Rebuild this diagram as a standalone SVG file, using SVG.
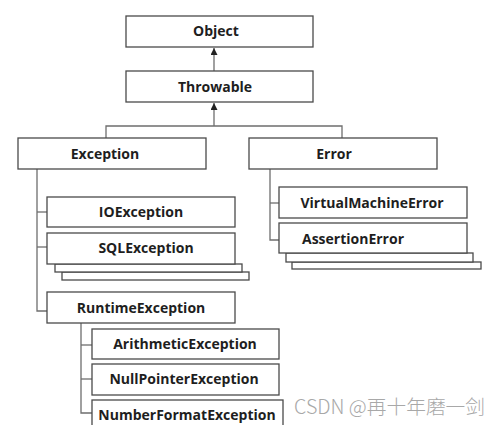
<svg xmlns="http://www.w3.org/2000/svg" width="500" height="425" viewBox="0 0 500 425">
<style>
.box{fill:#fff;stroke:#4a4a4a;stroke-width:1.3}
.lbl{font-family:"Open Sans","Liberation Sans",sans-serif;font-weight:bold;font-size:14px;fill:#1e1e1e;text-anchor:middle}
.con{stroke:#6e6e6e;stroke-width:1.3;fill:none}
.wm{fill:#a8a8a8}
</style>
<defs>
<marker id="arr" viewBox="0 0 8 8" refX="8" refY="4" markerWidth="7" markerHeight="7" markerUnits="userSpaceOnUse" orient="auto">
<path d="M0,0 L8,4 L0,8 Z" fill="#222"/>
</marker>
</defs>
<rect width="500" height="425" fill="#fff"/>
<g id="connectors">
<line class="con" x1="214" y1="71" x2="214" y2="48" marker-end="url(#arr)"/>
<line class="con" x1="214" y1="126" x2="214" y2="103" marker-end="url(#arr)"/>
<polyline class="con" points="106,138 106,126 342,126 342,138"/>
<polyline class="con" points="37,169 37,311 47,311"/>
<line class="con" x1="37" y1="212" x2="47" y2="212"/>
<line class="con" x1="37" y1="247" x2="47" y2="247"/>
<polyline class="con" points="81,323 81,413 92,413"/>
<line class="con" x1="81" y1="345" x2="92" y2="345"/>
<line class="con" x1="81" y1="379" x2="92" y2="379"/>
<polyline class="con" points="270,169 270,240 279,240"/>
<line class="con" x1="270" y1="203" x2="279" y2="203"/>
</g>
<g id="object"><rect class="box" x="126" y="16" width="187" height="31"/><text class="lbl" x="216" y="36">Object</text></g>
<g id="throwable"><rect class="box" x="126" y="71" width="187" height="31"/><text class="lbl" x="215" y="91.5">Throwable</text></g>
<g id="exception"><rect class="box" x="18" y="138" width="188" height="31"/><text class="lbl" x="105" y="158.5">Exception</text></g>
<g id="error"><rect class="box" x="249" y="138" width="188" height="31"/><text class="lbl" x="334" y="158.5">Error</text></g>
<g id="ioexception"><rect class="box" x="47" y="197" width="188" height="30"/><text class="lbl" x="141" y="217">IOException</text></g>
<g id="sqlexception">
<rect class="box" x="62" y="272" width="187" height="8"/>
<rect class="box" x="55" y="264" width="187" height="8"/>
<rect class="box" x="47" y="233" width="188" height="31"/>
<text class="lbl" x="146" y="253">SQLException</text></g>
<g id="runtimeexception"><rect class="box" x="47" y="292" width="188" height="31"/><text class="lbl" x="141" y="312.5">RuntimeException</text></g>
<g id="arithmeticexception"><rect class="box" x="92" y="329" width="187" height="30"/><text class="lbl" x="185" y="349">ArithmeticException</text></g>
<g id="nullpointerexception"><rect class="box" x="92" y="364" width="187" height="31"/><text class="lbl" x="184" y="384">NullPointerException</text></g>
<g id="numberformatexception"><rect class="box" x="92" y="400" width="191" height="32"/><text class="lbl" x="187" y="420">NumberFormatException</text></g>
<g id="virtualmachineerror"><rect class="box" x="279" y="187" width="188" height="31"/><text class="lbl" x="372" y="207.5">VirtualMachineError</text></g>
<g id="assertionerror">
<rect class="box" x="292" y="262" width="189" height="7"/>
<rect class="box" x="286" y="253" width="187" height="9"/>
<rect class="box" x="279" y="223" width="188" height="30"/>
<text class="lbl" x="353" y="243.5">AssertionError</text></g>
<g id="watermark">
<text class="wm" x="294" y="414" font-family="'Noto Sans CJK SC',sans-serif" font-size="19.5" font-weight="300" textLength="191" lengthAdjust="spacingAndGlyphs">CSDN @再十年磨一剑</text>
</g>
</svg>
